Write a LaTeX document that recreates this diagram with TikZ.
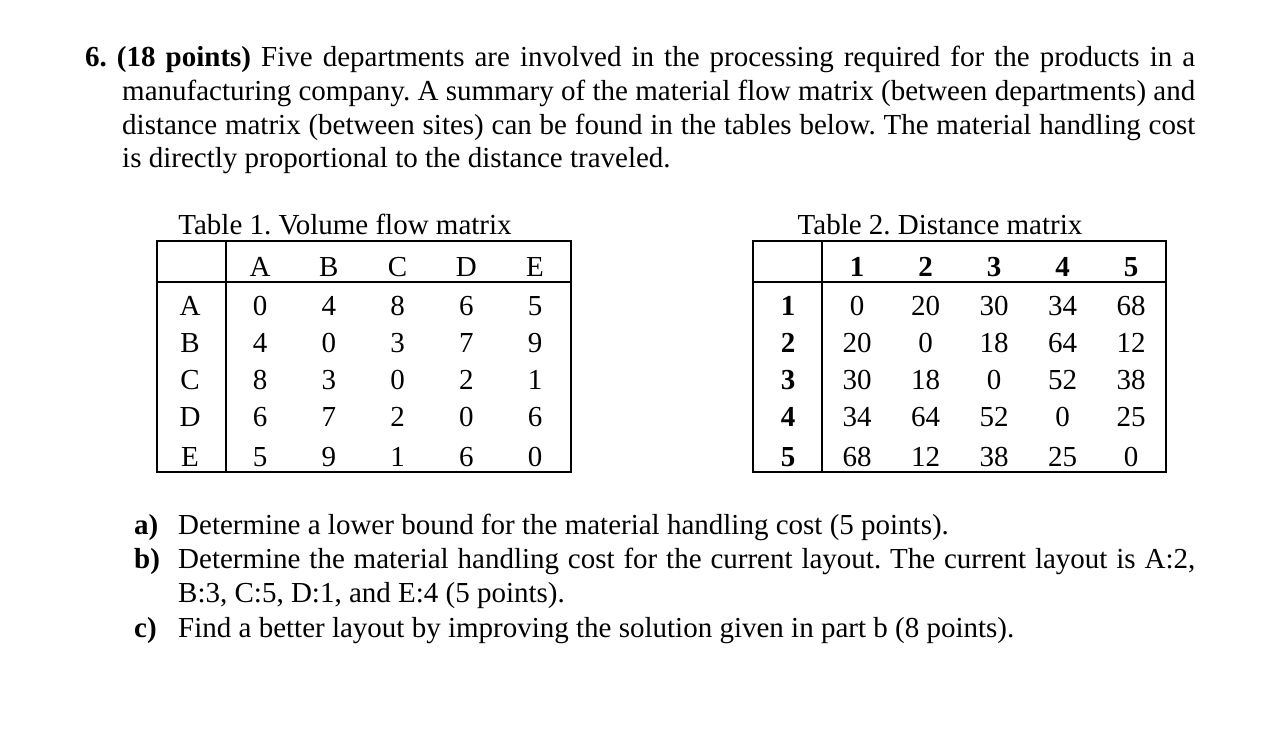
\documentclass[tikz,border=0pt]{standalone}
\usepackage{fontspec}
\setmainfont{Liberation Serif}
\begin{document}
\frenchspacing
\begin{tikzpicture}[x=1pt,y=-1pt,
  txt/.style={anchor=mid west,inner sep=0pt,font=\fontsize{29}{34}\selectfont},
  cell/.style={inner sep=0pt,font=\fontsize{29}{34}\selectfont},
  bcell/.style={cell,font=\fontsize{29}{34}\selectfont\bfseries},
  frame/.style={line width=2.8pt}]
\useasboundingbox (0,0) rectangle (1265,744);
\node[txt] (l1) at (85,64) {\makebox[1110pt][s]{\textbf{6. (18 points)} Five departments are involved in the processing required for the products in a}};
\node[txt] (l2) at (122,98) {\makebox[1073pt][s]{manufacturing company. A summary of the material flow matrix (between departments) and}};
\node[txt] (l3) at (122,132) {\makebox[1073pt][s]{distance matrix (between sites) can be found in the tables below. The material handling cost}};
\node[txt] (l4) at (122,165) {is directly proportional to the distance traveled.};
% Table 1
\node[cell] (cap1) at (345,225) {Table 1. Volume flow matrix};
\draw[frame] (157,241) rectangle (571,472);
\draw[frame] (157,282) -- (571,282);
\draw[frame] (226,241) -- (226,472);
\foreach \c [count=\i] in {A,B,C,D,E}{
  \pgfmathsetmacro\xx{260+68.75*(\i-1)}
  \node[cell] (t1h\i) at (\xx,267) {\c};
}
\foreach \r/\y [count=\j] in {A/306,B/343,C/380,D/417,E/457}{
  \node[cell] (t1r\j) at (190,\y) {\r};
}
\foreach \row [count=\j] in {{0,4,8,6,5},{4,0,3,7,9},{8,3,0,2,1},{6,7,2,0,6},{5,9,1,6,0}}{
  \pgfmathsetmacro\yy{{306,343,380,417,457}[\j-1]}
  \foreach \v [count=\i] in \row{
    \pgfmathsetmacro\xx{260+68.75*(\i-1)}
    \node[cell] (t1c\j\i) at (\xx,\yy) {\v};
  }
}
% Table 2
\node[cell] (cap2) at (940,225) {Table 2. Distance matrix};
\draw[frame] (753,241) rectangle (1166,472);
\draw[frame] (753,282) -- (1166,282);
\draw[frame] (822,241) -- (822,472);
\foreach \c [count=\i] in {1,2,3,4,5}{
  \pgfmathsetmacro\xx{857+68.5*(\i-1)}
  \node[bcell] (t2h\i) at (\xx,267) {\c};
}
\foreach \r/\y [count=\j] in {1/306,2/343,3/380,4/417,5/457}{
  \node[bcell] (t2r\j) at (788,\y) {\r};
}
\foreach \row [count=\j] in {{0,20,30,34,68},{20,0,18,64,12},{30,18,0,52,38},{34,64,52,0,25},{68,12,38,25,0}}{
  \pgfmathsetmacro\yy{{306,343,380,417,457}[\j-1]}
  \foreach \v [count=\i] in \row{
    \pgfmathsetmacro\xx{857+68.5*(\i-1)}
    \node[cell] (t2c\j\i) at (\xx,\yy) {\v};
  }
}
% parts
\node[txt] (pa) at (134,532) {\textbf{a)}};
\node[txt] (pat) at (178,532) {Determine a lower bound for the material handling cost (5 points).};
\node[txt] (pb) at (134,566) {\textbf{b)}};
\node[txt] (pbt) at (178,566) {\makebox[1017pt][s]{Determine the material handling cost for the current layout. The current layout is A:2,}};
\node[txt] (pbt2) at (178,600) {B:3, C:5, D:1, and E:4 (5 points).};
\node[txt] (pc) at (134,635) {\textbf{c)}};
\node[txt] (pct) at (178,635) {Find a better layout by improving the solution given in part b (8 points).};
\end{tikzpicture}
\end{document}
